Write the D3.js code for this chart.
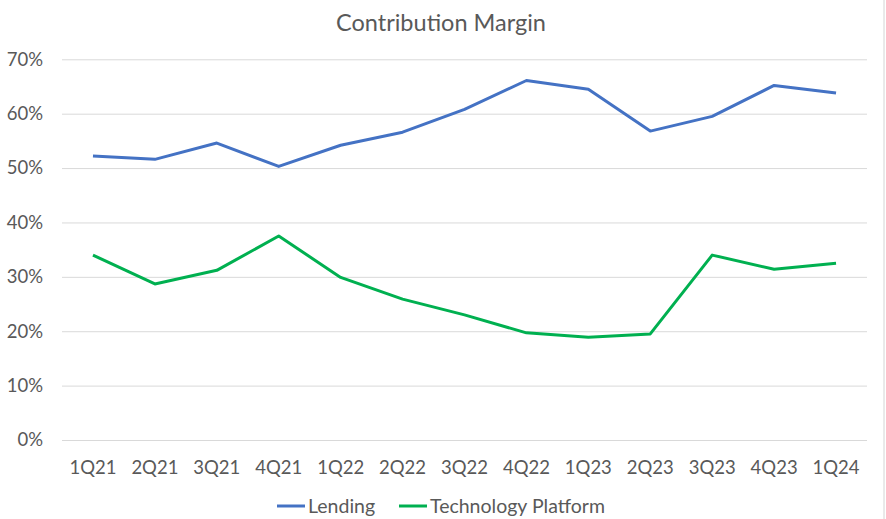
<!DOCTYPE html>
<html>
<head>
<meta charset="utf-8">
<script src="https://cdn.jsdelivr.net/npm/d3@7"></script>
<style>
  body { margin: 0; background: #fff; }
  svg { display: block; font-family: Lato, "Open Sans", sans-serif; }
</style>
</head>
<body>
<svg id="chart" width="886" height="519"></svg>
<script>
// data
const quarters = ['1Q21','2Q21','3Q21','4Q21','1Q22','2Q22','3Q22','4Q22','1Q23','2Q23','3Q23','4Q23','1Q24']
const lending = [0.522, 0.516, 0.546, 0.503, 0.542, 0.566, 0.608, 0.661, 0.645, 0.568, 0.595, 0.652, 0.638]
const techPlatform = [0.340, 0.287, 0.312, 0.375, 0.299, 0.259, 0.230, 0.197, 0.189, 0.195, 0.340, 0.314, 0.325]
const yTicks = [0, 0.1, 0.2, 0.3, 0.4, 0.5, 0.6, 0.7]

const series = [
    { name: 'Lending', values: lending, color: '#4472C4' },
    { name: 'Technology Platform', values: techPlatform, color: '#00B050' }
]

const svg = d3.select('#chart')
const textColor = '#595959'

const x = d3.scaleBand()
    .domain(quarters)
    .range([62, 867])
    .padding(0)

const y = d3.scaleLinear()
    .domain([0, 0.7])
    .range([440, 59.3])

// excel sheet edge on the right
svg.append('line')
    .attr('x1', 884).attr('x2', 884)
    .attr('y1', 0).attr('y2', 519)
    .attr('stroke', '#d4d4d4')

// title
svg.append('text')
    .attr('x', 441)
    .attr('y', 31)
    .attr('text-anchor', 'middle')
    .attr('fill', textColor)
    .style('font-size', '23.5px')
    .text('Contribution Margin')

// gridlines + y labels
const yAxis = d3.axisLeft(y)
    .tickValues(yTicks)
    .tickSize(-(867 - 62))
    .tickPadding(19)
    .tickFormat(d3.format('.0%'))

svg.append('g')
    .attr('transform', 'translate(62,0)')
    .call(yAxis)
    .call(g => g.select('.domain').remove())
    .call(g => g.selectAll('.tick line').attr('stroke', '#d9d9d9'))
    .call(g => g.selectAll('.tick text')
        .attr('fill', textColor)
        .style('font-size', '18.5px')
        .style('font-family', 'Lato, sans-serif'))

// x labels
const xAxis = d3.axisBottom(x).tickSize(0).tickPadding(21)
svg.append('g')
    .attr('transform', 'translate(0,440)')
    .call(xAxis)
    .call(g => g.select('.domain').remove())
    .call(g => g.selectAll('.tick text')
        .attr('fill', textColor)
        .style('font-size', '18.5px')
        .style('font-family', 'Lato, sans-serif'))

// lines
const line = d3.line()
    .x((d, i) => x(quarters[i]) + x.bandwidth() / 2)
    .y(d => y(d))

svg.append('g')
    .selectAll('path')
    .data(series)
    .enter().append('path')
    .attr('d', d => line(d.values))
    .attr('fill', 'none')
    .attr('stroke', d => d.color)
    .attr('stroke-width', 3)
    .attr('stroke-linejoin', 'round')

// legend
const legendX = [277, 399]
const legend = svg.append('g')
    .selectAll('g')
    .data(series)
    .enter().append('g')
    .attr('transform', (d, i) => 'translate(' + legendX[i] + ',506)')

legend.append('line')
    .attr('x1', 0).attr('x2', 28)
    .attr('stroke', d => d.color)
    .attr('stroke-width', 3)

legend.append('text')
    .attr('x', 31)
    .attr('dy', '0.35em')
    .attr('fill', textColor)
    .style('font-size', '19.5px')
    .text(d => d.name)
</script>
</body>
</html>
